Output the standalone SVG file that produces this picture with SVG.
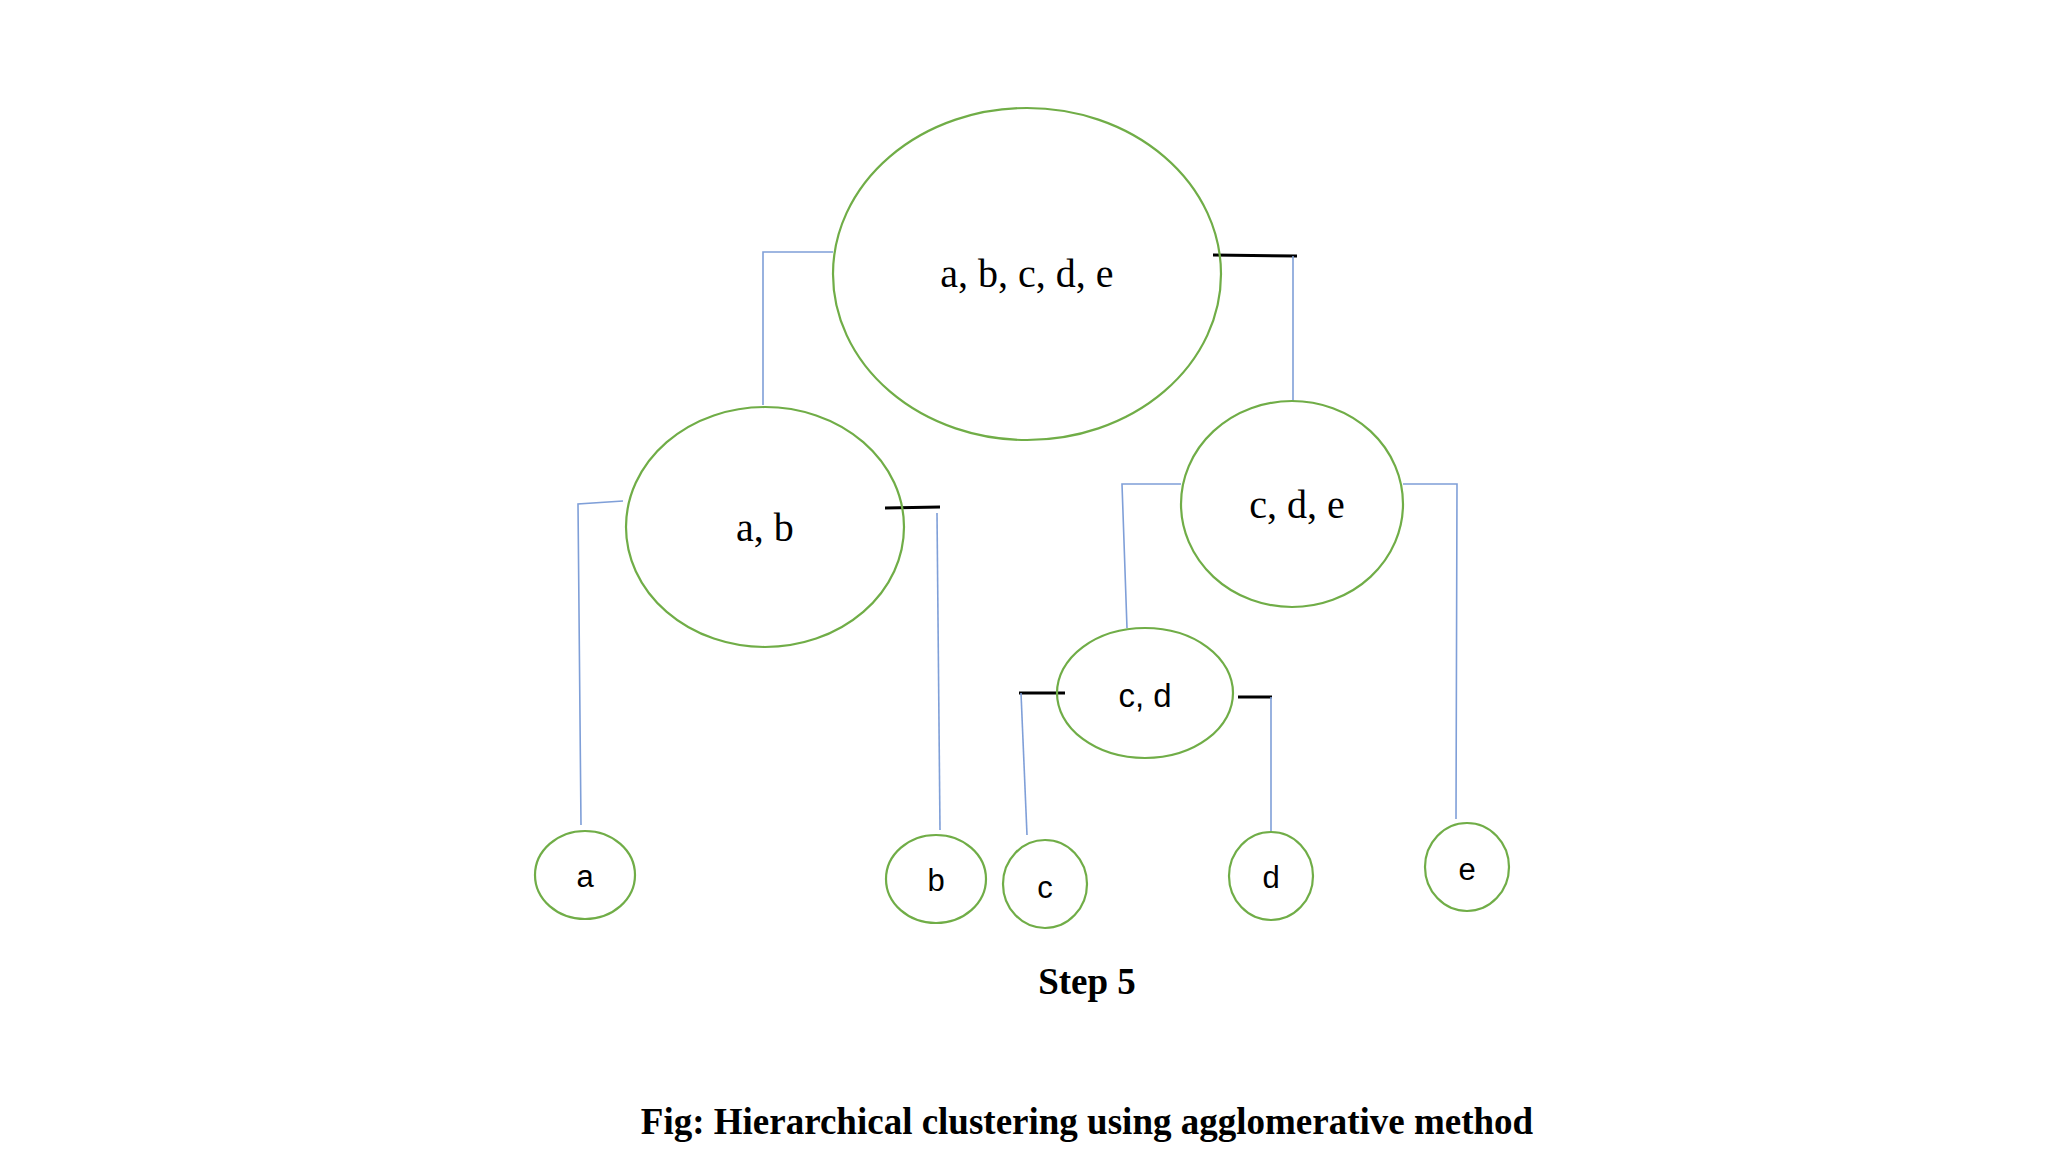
<svg xmlns="http://www.w3.org/2000/svg" width="2048" height="1152" viewBox="0 0 2048 1152">
<style>
.n{fill:none;stroke:#70ad47;stroke-width:2.2}
.l{fill:none;stroke:#7f9fd8;stroke-width:1.6}
.k{fill:none;stroke:#000;stroke-width:3}
.s{font-family:"Liberation Serif",serif;text-anchor:middle;dominant-baseline:middle;fill:#000}
.a{font-family:"Liberation Sans",sans-serif;text-anchor:middle;dominant-baseline:middle;fill:#000}
</style>
<rect width="2048" height="1152" fill="#fff"/>
<g id="connectors">
<polyline class="l" points="833,252 763,252 763,405"/>
<line class="k" x1="1213" y1="255" x2="1297" y2="256"/>
<line class="l" x1="1293" y1="256" x2="1293" y2="401"/>
<polyline class="l" points="623,501 578,504 581,825"/>
<line class="k" x1="885" y1="508" x2="940" y2="507"/>
<line class="l" x1="937" y1="513" x2="940" y2="830"/>
<polyline class="l" points="1181,484 1122,484 1127,628"/>
<polyline class="l" points="1403,484 1457,484 1456,819"/>
<line class="k" x1="1019" y1="693" x2="1065" y2="693"/>
<line class="l" x1="1021" y1="693" x2="1027" y2="835"/>
<line class="k" x1="1238" y1="697" x2="1272" y2="697"/>
<line class="l" x1="1271" y1="697" x2="1271" y2="831"/>
</g>
<g id="abcde"><ellipse class="n" cx="1027" cy="274" rx="194" ry="166"/><text class="s" x="1027" y="278" font-size="40">a, b, c, d, e</text></g>
<g id="ab"><ellipse class="n" cx="765" cy="527" rx="139" ry="120"/><text class="s" x="765" y="532" font-size="40">a, b</text></g>
<g id="cde"><ellipse class="n" cx="1292" cy="504" rx="111" ry="103"/><text class="s" x="1297" y="509" font-size="40">c, d, e</text></g>
<g id="cd"><ellipse class="n" cx="1145" cy="693" rx="88" ry="65"/><text class="a" x="1145" y="698" font-size="33">c, d</text></g>
<g id="a"><ellipse class="n" cx="585" cy="875" rx="50" ry="44"/><text class="a" x="585" y="879" font-size="31">a</text></g>
<g id="b"><ellipse class="n" cx="936" cy="879" rx="50" ry="44"/><text class="a" x="936" y="883" font-size="31">b</text></g>
<g id="c"><ellipse class="n" cx="1045" cy="884" rx="42" ry="44"/><text class="a" x="1045" y="890" font-size="31">c</text></g>
<g id="d"><ellipse class="n" cx="1271" cy="876" rx="42" ry="44"/><text class="a" x="1271" y="880" font-size="31">d</text></g>
<g id="e"><ellipse class="n" cx="1467" cy="867" rx="42" ry="44"/><text class="a" x="1467" y="872" font-size="31">e</text></g>
<text class="s" x="1087" y="986" font-size="37" font-weight="bold">Step 5</text>
<text class="s" x="1087" y="1126" font-size="37" font-weight="bold">Fig: Hierarchical clustering using agglomerative method</text>
</svg>
